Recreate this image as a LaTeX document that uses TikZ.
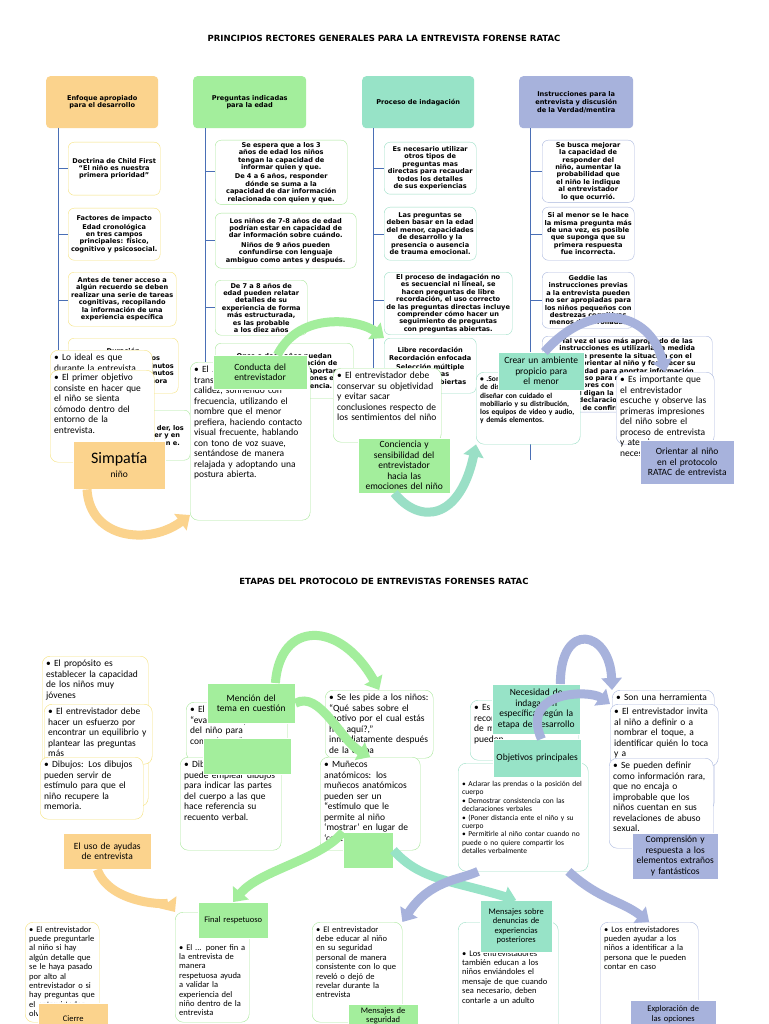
\documentclass[tikz,border=0pt]{standalone}
\usepackage{fontspec}
\setmainfont{DejaVu Sans}
\newfontfamily\carl{Carlito}
\usetikzlibrary{arrows.meta}
\hyphenpenalty=10000 \exhyphenpenalty=10000
\definecolor{cor}{HTML}{FBD38D}
\definecolor{cgr}{HTML}{A3EE9C}
\definecolor{ctl}{HTML}{97E3C7}
\definecolor{cbl}{HTML}{A7B2DC}
\definecolor{lor}{HTML}{F6E27A}
\definecolor{lgr}{HTML}{A8E89A}
\definecolor{ltl}{HTML}{9ADFC6}
\definecolor{lbl}{HTML}{AAB8DE}
\definecolor{axis}{HTML}{4A6FB5}
\newcommand\tbx[2]{\parbox[c][#1][t]{\linewidth}{\raggedright #2}}
\tikzset{
 hdr/.style={anchor=north west,rounded corners=4pt,inner sep=3pt,align=center,font=\fontsize{6.6}{7.8}\selectfont\bfseries},
 sub/.style={anchor=north west,draw,fill=white,rounded corners=6pt,inner sep=2pt,align=center,font=\fontsize{6.6}{7.4}\selectfont\bfseries},
 bul/.style={anchor=north west,draw,fill=white,rounded corners=8pt,inner sep=4pt,align=left,font=\carl\fontsize{9.5}{10.5}\selectfont},
 lab/.style={anchor=north west,inner sep=3pt,align=center,font=\carl\fontsize{9.5}{10.5}\selectfont,draw=white},
 bigarr/.style={line width=9pt,-{Triangle[width=20pt,length=12pt]}},
 ttl/.style={font=\fontsize{8.5}{10}\selectfont\bfseries}
}
\begin{document}
\begin{tikzpicture}[x=1pt,y=-1pt]
\useasboundingbox (0,0) rectangle (768,1024);
\fill[white] (0,0) rectangle (768,1024);
\clip (0,0) rectangle (768,1024);
% ================= TOP ==================
\node[ttl] (t1) at (384,38) {PRINCIPIOS RECTORES GENERALES PARA LA ENTREVISTA FORENSE RATAC};
\node[hdr,fill=cor,text width=106pt,minimum height=52pt] (h1) at (46,76) {Enfoque apropiado para el desarrollo};
\node[hdr,fill=cgr,text width=107pt,minimum height=52pt] (h2) at (193,76) {Preguntas indicadas para la edad};
\node[hdr,fill=ctl,text width=106pt,minimum height=52pt] (h3) at (362,76) {Proceso de indagación};
\node[hdr,fill=cbl,text width=108pt,minimum height=52pt] (h4) at (519,76) {Instrucciones para la entrevista y discusión de la Verdad/mentira};
\coordinate (v1) at (58,460); \coordinate (v2) at (205,460);
\coordinate (v3) at (373,420); \coordinate (v4) at (530,460);
\draw[axis] (58,128) -- (v1); \draw[axis] (205,128) -- (v2);
\draw[axis] (373,128) -- (v3); \draw[axis] (530,128) -- (v4);
\foreach \y in {168,234,300,368} {\draw[axis] (58,\y) -- (68,\y);}
\foreach \y in {171,240,307,373} {\draw[axis] (205,\y) -- (215,\y);}
\foreach \y in {168,234,300} {\draw[axis] (373,\y) -- (384,\y);}
\foreach \y in {171,234,300,368} {\draw[axis] (530,\y) -- (542,\y);}
% column 1
\node[sub,draw=lor,text width=88pt,minimum height=53pt] (a1) at (68,142) {Doctrina de Child First “El niño es nuestra primera prioridad”};
\node[sub,draw=lor,text width=88pt,minimum height=52pt] (a2) at (68,208) {Factores de impacto\\[1pt] Edad cronológica en tres campos principales: físico, cognitivo y psicosocial.};
\node[sub,draw=lor,text width=104pt,minimum height=54pt] (a3) at (68,272) {Antes de tener acceso a algún recuerdo se deben realizar una serie de tareas cognitivas, recopilando la información de una experiencia específica};
\node[sub,draw=lor,text width=106pt,minimum height=55pt] (a4) at (68,338) {Duración\\3años = 15 minutos\\4-5 años = 20 a 25 minutos\\6-9 años = 30 a 45 minutos\\10 años o más una hora};
\node[sub,draw=lgr,text width=56pt,minimum height=50pt] (a5) at (130,410) {ue el der, los ender y en su ar un e.};
% column 2
\node[sub,draw=lgr,text width=128pt,minimum height=58pt] (b1) at (215,140) {Se espera que a los 3 años de edad los niños tengan la capacidad de informar quien y que.\\[2pt] De 4 a 6 años, responder dónde se suma a la capacidad de dar información relacionada con quien y que.};
\node[sub,draw=lgr,text width=137pt,minimum height=55pt] (b2) at (215,213) {Los niños de 7-8 años de edad podrían estar en capacidad de dar información sobre cuándo.\\[2pt] Niños de 9 años pueden confundirse con lenguaje ambiguo como antes y después.};
\node[sub,draw=lgr,text width=88pt,minimum height=55pt] (b3) at (215,280) {De 7 a 8 años de edad pueden relatar detalles de su experiencia de forma más estructurada, es las probable a los diez años};
\node[sub,draw=lgr,text width=134pt,minimum height=55pt] (b4) at (215,343) {Once o doce años puedan proporcionar información de manera más sólida. Aportar detalles de percepciones e información de evidencia.};
% column 3
\node[sub,draw=ltl,text width=88pt,minimum height=52pt] (c1) at (384,142) {Es necesario utilizar otros tipos de preguntas mas directas para recaudar todos los detalles de sus experiencias};
\node[sub,draw=ltl,text width=88pt,minimum height=53pt] (c2) at (384,207) {Las preguntas se deben basar en la edad del menor, capacidades de desarrollo y la presencia o ausencia de trauma emocional.};
\node[sub,draw=ltl,text width=124pt,minimum height=56pt] (c3) at (384,272) {El proceso de indagación no es secuencial ni lineal, se hacen preguntas de libre recordación, el uso correcto de las preguntas directas incluye comprender cómo hacer un seguimiento de preguntas con preguntas abiertas.};
\node[sub,draw=ltl,text width=88pt,minimum height=55pt] (c4) at (384,338) {Libre recordación\\[1pt] Recordación enfocada\\[1pt] Selección múltiple\\ Preguntas cerradas o abiertas};
% column 4
\node[sub,draw=lbl,text width=88pt,minimum height=57pt] (d1) at (542,140) {Se busca mejorar la capacidad de responder del niño, aumentar la probabilidad que el niño le indique al entrevistador lo que ocurrió.};
\node[sub,draw=lbl,text width=88pt,minimum height=53pt] (d2) at (542,207) {Si al menor se le hace la misma pregunta más de una vez, es posible que suponga que su primera respuesta fue incorrecta.};
\node[sub,draw=lbl,text width=88pt,minimum height=56pt] (d3) at (542,272) {Geddie las instrucciones previas a la entrevista pueden no ser apropiadas para los niños pequeños con destrezas cognitivas menos desarrolladas};
\node[sub,draw=lbl,text width=166pt,minimum height=60pt] (d4) at (542,336) {Tal vez el uso más apropiado de las instrucciones es utilizarlas a medida que se presente la situación con el fin de orientar al niño y fortalecer su capacidad para aportar información incluso para rechazar preguntas\\ Menores con capacidad y menos edad digan la verdad mayores son con declaraciones verbales mucho antes de confirmaciones incorrectas};
% overlays
\node[bul,draw=lor,text width=94pt] (o1) at (50,350) {\tbx{82pt}{• Lo ideal es que durante la entrevista}};
\node[bul,draw=lor,text width=96pt] (o2) at (50,370) {\tbx{84pt}{• El primer objetivo consiste en hacer que el niño se sienta cómodo dentro del entorno de la entrevista.}};
\node[lab,fill=cor,text width=86pt,minimum height=48pt] (s1) at (73,441) {{\fontsize{16}{18}\selectfont Simpatía}\\[4pt] niño};
\node[bul,draw=lgr,text width=112pt] (o3) at (190,362) {\tbx{150pt}{• El ... del entrevistador transmite una sensación de calidez, sonriendo con frecuencia, utilizando el nombre que el menor prefiera, haciendo contacto visual frecuente, hablando con tono de voz suave, sentándose de manera relajada y adoptando una postura abierta.}};
\node[lab,fill=cgr,text width=88pt,minimum height=34pt] (s2) at (213,355) {Conducta del entrevistador};
\node[bul,draw=lgr,text width=100pt] (o4) at (333,368) {\tbx{66pt}{• El entrevistador debe conservar su objetividad y evitar sacar conclusiones respecto de los sentimientos del niño}};
\node[lab,fill=cgr,text width=86pt,minimum height=44pt] (s3) at (358,438) {Conciencia y sensibilidad del entrevistador hacia las emociones del niño};
\node[bul,draw=ltl,text width=96pt,font=\carl\fontsize{7.5}{8.3}\selectfont\bfseries] (o5) at (476,372) {\tbx{64pt}{• .Son ... privacidad y la falta de distracciones. Es necesario diseñar con cuidado el mobiliario y su distribución, los equipos de video y audio, y demás elementos.}};
\node[lab,fill=ctl,text width=80pt,minimum height=38pt] (s4) at (498,352) {Crear un ambiente propicio para el menor};
\node[bul,draw=lbl,text width=90pt] (o6) at (616,372) {\tbx{64pt}{• Es importante que el entrevistador escuche y observe las primeras impresiones del niño sobre el proceso de entrevista y atender sus necesidades}};
\node[lab,fill=cbl,text width=88pt,minimum height=44pt] (s5) at (640,440) {Orientar al niño en el protocolo RATAC de entrevista};
% top arrows
\draw[bigarr,cor] (s1.south west) ++(14,0) .. controls (90,540) and (150,545) .. (o3.west |- 0,515);
\draw[bigarr,cgr] (s2.north east) ++(-30,0) .. controls (300,310) and (360,320) .. (c4.north west);
\draw[bigarr,ltl] (s3.south) ++(-10,0) .. controls (420,525) and (460,520) .. (o5.south west);
\draw[bigarr,cbl] (s4.north east) ++(-40,0) .. controls (590,300) and (650,310) .. (o6.north);
% ================= BOTTOM ==================
\node[ttl] (t2) at (384,581) {ETAPAS DEL PROTOCOLO DE ENTREVISTAS FORENSES RATAC};
% col1
\node[bul,draw=lor,text width=98pt] (e1) at (42,656) {\tbx{142pt}{• El propósito es establecer la capacidad de los niños muy jóvenes}};
\node[bul,draw=lor,text width=100pt] (e2) at (44,704) {\tbx{52pt}{• El entrevistador debe hacer un esfuerzo por encontrar un equilibrio y plantear las preguntas más}};
\node[bul,draw=lor,text width=95pt] (e3) at (40,757) {\tbx{54pt}{• Dibujos: Los dibujos pueden servir de estímulo para que el niño recupere la memoria.}};
\node[lab,fill=cor,text width=82pt,minimum height=36pt] (e4) at (63,833) {El uso de ayudas de entrevista};
% col2
\node[bul,draw=lgr,text width=93pt] (f2) at (186,702) {\tbx{50pt}{• El propósito es “evaluar la capacidad del niño para comunicarse”}};
\node[bul,draw=lgr,text width=93pt] (f1) at (180,757) {\tbx{85pt}{• Dibujos: el niño puede emplear dibujos para indicar las partes del cuerpo a las que hace referencia su recuento verbal.}};
\node[lab,fill=cgr,text width=82pt,minimum height=40pt] (f3) at (207,683) {Mención del tema en cuestión};
\node[lab,fill=cgr,text width=82pt,minimum height=36pt] (f4) at (203,738) {};
% col3
\node[bul,draw=lgr,text width=100pt] (g1) at (325,690) {\tbx{60pt}{• Se les pide a los niños: “Qué sabes sobre el motivo por el cual estás hoy aquí?,” inmediatamente después de la etapa}};
\node[bul,draw=lgr,text width=92pt] (g2) at (320,757) {\tbx{85pt}{• Muñecos anatómicos: los muñecos anatómicos pueden ser un “estímulo que le permite al niño ‘mostrar’ en lugar de ‘contar’ sucesos}};
\node[lab,fill=cgr,text width=44pt,minimum height=36pt] (g3) at (343,832) {};
% col4
\node[bul,draw=ltl,text width=100pt] (k1) at (470,700) {\tbx{52pt}{• Es importante reconocer que los niños de menos de siete años pueden...}};
\node[lab,fill=ctl,text width=82pt,minimum height=50pt] (k2) at (492,684) {Necesidad de indagación específica según la etapa de desarrollo};
\node[bul,draw=ltl,text width=122pt,font=\carl\fontsize{7.5}{8.4}\selectfont] (k3) at (458,763) {\tbx{100pt}{\vspace*{14pt}• Aclarar las prendas o la posición del cuerpo\\• Demostrar consistencia con las declaraciones verbales\\• (Poner distancia ente el niño y su cuerpo\\• Permitirle al niño contar cuando no puede o no quiere compartir los detalles verbalmente}};
\node[lab,fill=ctl,text width=82pt,minimum height=38pt] (k4) at (493,739) {Objetivos principales};
% col5
\node[bul,draw=lbl,text width=94pt] (m1) at (612,690) {\tbx{112pt}{• Son una herramienta}};
\node[bul,draw=lbl,text width=100pt] (m2) at (610,704) {\tbx{54pt}{• El entrevistador invita al niño a definir o a nombrar el toque, a identificar quién lo toca y a}};
\node[bul,draw=lbl,text width=96pt] (m3) at (609,758) {\tbx{82pt}{• Se pueden definir como información rara, que no encaja o improbable que los niños cuentan en sus revelaciones de abuso sexual.}};
\node[lab,fill=cbl,text width=80pt,minimum height=40pt] (m4) at (632,833) {Comprensión y respuesta a los elementos extraños y fantásticos};
% bottom row
\node[bul,draw=lor,text width=66pt,font=\carl\fontsize{8.5}{9.4}\selectfont] (n1) at (25,922) {\tbx{92pt}{• El entrevistador puede preguntarle al niño si hay algún detalle que se le haya pasado por alto al entrevistador o si hay preguntas que el entrevistador olvidó}};
\node[lab,fill=cor,text width=64pt,minimum height=30pt,font=\carl\fontsize{8.5}{9.4}\selectfont] (n2) at (38,1003) {Cierre};
\node[bul,draw=lgr,text width=66pt,font=\carl\fontsize{8.5}{9.4}\selectfont] (p1) at (175,912) {\tbx{102pt}{\vspace*{28pt}• El ... poner fin a la entrevista de manera respetuosa ayuda a validar la experiencia del niño dentro de la entrevista}};
\node[lab,fill=cgr,text width=64pt,minimum height=36pt,font=\carl\fontsize{8.5}{9.4}\selectfont] (p2) at (198,902) {Final respetuoso};
\node[bul,draw=lgr,text width=82pt,font=\carl\fontsize{8.5}{9.4}\selectfont] (q1) at (312,922) {\tbx{92pt}{• El entrevistador debe educar al niño en su seguridad personal de manera consistente con lo que reveló o dejó de revelar durante la entrevista}};
\node[lab,fill=cgr,text width=64pt,minimum height=30pt,font=\carl\fontsize{8.5}{9.4}\selectfont] (q2) at (348,1004) {Mensajes de seguridad personal};
\node[bul,draw=ltl,text width=92pt,font=\carl\fontsize{8.5}{9.4}\selectfont] (r1) at (458,922) {\tbx{102pt}{\vspace*{24pt}• Los entrevistadores también educan a los niños enviándoles el mensaje de que cuando sea necesario, deben contarle a un adulto}};
\node[lab,fill=ctl,text width=66pt,minimum height=52pt,font=\carl\fontsize{8.5}{9.4}\selectfont] (r2) at (480,900) {Mensajes sobre denuncias de experiencias posteriores};
\node[bul,draw=lbl,text width=90pt,font=\carl\fontsize{8.5}{9.4}\selectfont] (u1) at (600,922) {\tbx{102pt}{• Los entrevistadores pueden ayudar a los niños a identificar a la persona que le pueden contar en caso}};
\node[lab,fill=cbl,text width=80pt,minimum height=36pt,font=\carl\fontsize{8.5}{9.4}\selectfont] (u2) at (630,1000) {Exploración de las opciones de revelación};
% bottom arrows
\draw[bigarr,cor] (e4.south) ++(-10,0) .. controls (110,905) and (170,905) .. (p1.north west);
\draw[bigarr,cgr] (f3.north east) ++(-20,0) .. controls (280,620) and (340,620) .. (g1.north);
\draw[bigarr,cgr] (f3.east) .. controls (320,690) and (340,740) .. (g2.north);
\draw[bigarr,cgr] (g3.north west) .. controls (320,860) and (260,870) .. (p2.north);
\draw[bigarr,ctl] (g3.east) .. controls (420,880) and (450,880) .. (r2.north);
\draw[bigarr,cbl] (k2.north east) ++(-20,0) .. controls (560,620) and (610,630) .. (m1.north west);
\draw[bigarr,cbl] (k4.north east) ++(-40,0) .. controls (520,690) and (590,690) .. (m2.north west);
\draw[bigarr,cbl] (k3.south east) ++(-20,0) .. controls (600,900) and (620,900) .. (u1.north);
\draw[bigarr,cbl] (k3.south west) ++(20,0) .. controls (460,880) and (430,880) .. (q1.north east);
\end{tikzpicture}
\end{document}
